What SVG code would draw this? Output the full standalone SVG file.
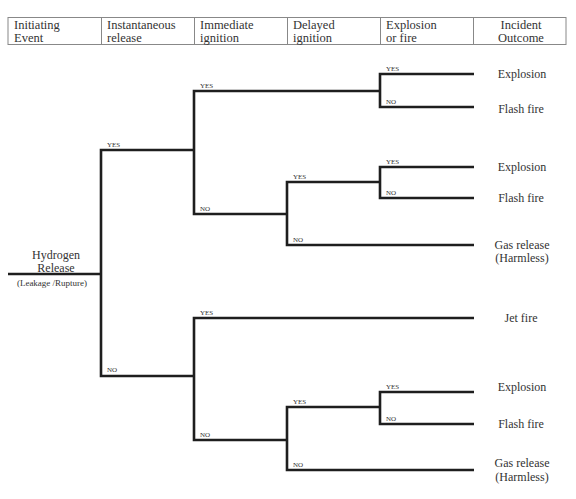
<svg xmlns="http://www.w3.org/2000/svg" width="576" height="499" viewBox="0 0 576 499">
<style>
  .hdr { font-family: "Liberation Serif", serif; font-size: 12.5px; fill: #333; }
  .out { font-family: "Liberation Serif", serif; font-size: 12px; fill: #333; text-anchor: middle; }
  .lbl { font-family: "Liberation Serif", serif; font-size: 7px; fill: #333; }
  .grid { stroke: #888; stroke-width: 1; fill: none; }
  .br { stroke: #1e1e1e; stroke-width: 2.6; fill: none; stroke-linejoin: miter; stroke-linecap: butt; }
</style>
<rect width="576" height="499" fill="#fff"/>
<g id="header">
  <rect class="grid" x="8" y="17.5" width="558" height="27"/>
  <line class="grid" x1="101.5" y1="17.5" x2="101.5" y2="44.5"/>
  <line class="grid" x1="194.5" y1="17.5" x2="194.5" y2="44.5"/>
  <line class="grid" x1="287.5" y1="17.5" x2="287.5" y2="44.5"/>
  <line class="grid" x1="380.5" y1="17.5" x2="380.5" y2="44.5"/>
  <line class="grid" x1="473.5" y1="17.5" x2="473.5" y2="44.5"/>
  <text class="hdr" x="14" y="28.5">Initiating</text>
  <text class="hdr" x="14" y="41.5">Event</text>
  <text class="hdr" x="107" y="28.5">Instantaneous</text>
  <text class="hdr" x="107" y="41.5">release</text>
  <text class="hdr" x="200" y="28.5">Immediate</text>
  <text class="hdr" x="200" y="41.5">ignition</text>
  <text class="hdr" x="293" y="28.5">Delayed</text>
  <text class="hdr" x="293" y="41.5">ignition</text>
  <text class="hdr" x="386" y="28.5">Explosion</text>
  <text class="hdr" x="386" y="41.5">or fire</text>
  <text class="hdr" x="521" y="28.5" text-anchor="middle">Incident</text>
  <text class="hdr" x="521" y="41.5" text-anchor="middle">Outcome</text>
</g>
<g id="connectors">
  <path class="br" d="M8,274 H101"/>
  <path class="br" d="M194,150 H101 V376 H194"/>
  <path class="br" d="M380,91 H194 V214 H287"/>
  <path class="br" d="M474,74 H380 V107 H474"/>
  <path class="br" d="M380,182 H287 V245 H474"/>
  <path class="br" d="M474,167 H380 V198 H474"/>
  <path class="br" d="M474,318 H194 V440 H287"/>
  <path class="br" d="M380,407 H287 V470 H474"/>
  <path class="br" d="M474,392 H380 V424 H474"/>
</g>
<g id="branch-labels">
  <text class="lbl" x="107" y="146.5">YES</text>
  <text class="lbl" x="107" y="372">NO</text>
  <text class="lbl" x="200" y="87.5">YES</text>
  <text class="lbl" x="200" y="210.5">NO</text>
  <text class="lbl" x="386" y="70.5">YES</text>
  <text class="lbl" x="386" y="103.5">NO</text>
  <text class="lbl" x="293" y="178.5">YES</text>
  <text class="lbl" x="293" y="241.5">NO</text>
  <text class="lbl" x="386" y="163.5">YES</text>
  <text class="lbl" x="386" y="194.5">NO</text>
  <text class="lbl" x="200" y="314.5">YES</text>
  <text class="lbl" x="200" y="436.5">NO</text>
  <text class="lbl" x="293" y="403.5">YES</text>
  <text class="lbl" x="293" y="466.5">NO</text>
  <text class="lbl" x="386" y="388.5">YES</text>
  <text class="lbl" x="386" y="420.5">NO</text>
</g>
<g id="initiating-event">
  <text class="out" x="56" y="258.5" font-size="12.5">Hydrogen</text>
  <text class="out" x="56" y="272" font-size="12.5">Release</text>
  <text class="out" x="52" y="286" style="font-size:9px">(Leakage /Rupture)</text>
</g>
<g id="outcome-1"><text class="out" x="522" y="78">Explosion</text></g>
<g id="outcome-2"><text class="out" x="521" y="113">Flash fire</text></g>
<g id="outcome-3"><text class="out" x="522" y="171">Explosion</text></g>
<g id="outcome-4"><text class="out" x="521" y="202">Flash fire</text></g>
<g id="outcome-5"><text class="out" x="522" y="248.5">Gas release</text><text class="out" x="522" y="261.5">(Harmless)</text></g>
<g id="outcome-6"><text class="out" x="521" y="322">Jet fire</text></g>
<g id="outcome-7"><text class="out" x="522" y="390.5">Explosion</text></g>
<g id="outcome-8"><text class="out" x="521" y="428">Flash fire</text></g>
<g id="outcome-9"><text class="out" x="522" y="467">Gas release</text><text class="out" x="522" y="480.5">(Harmless)</text></g>
</svg>
